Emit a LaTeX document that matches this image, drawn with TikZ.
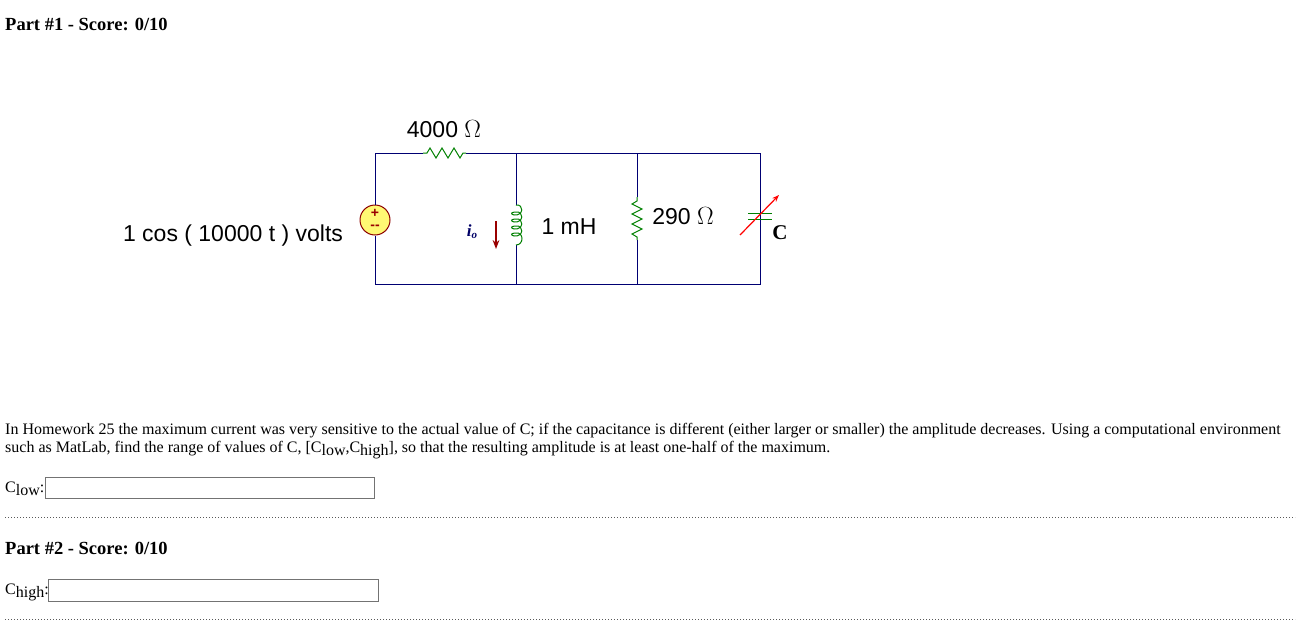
\documentclass[tikz,border=0pt]{standalone}
\usepackage{fontspec}
\setmainfont{Liberation Serif}
\newfontfamily\lsans{Liberation Sans}
\usetikzlibrary{arrows.meta}
\begin{document}
\begin{tikzpicture}[x=1pt,y=-1pt,
  wire/.style={draw=blue!45!black,line width=1pt},
  comp/.style={draw=green!50!black,line width=1pt},
  txt/.style={anchor=base west,inner sep=0pt,font=\fontsize{16}{18}\selectfont},
  lbl/.style={inner sep=0pt,font=\lsans\fontsize{23}{26}\selectfont},
  box/.style={draw=gray!90!black,line width=1pt,fill=white},
  dots/.style={draw=gray!70!black,dotted,line width=1pt}]
\useasboundingbox (0,0) rectangle (1301,624);
\node[txt,font=\bfseries\fontsize{18.5}{20}\selectfont] (p1) at (5,30) {Part \#1 - Score: 0/10};
\coordinate (tl) at (375,153); \coordinate (bl) at (375,284);
\coordinate (r1a) at (423,153); \coordinate (r1b) at (466,153);
\coordinate (tm) at (516,153); \coordinate (bm) at (516,284);
\coordinate (tr) at (637,153); \coordinate (br) at (637,284);
\coordinate (tx) at (760,153); \coordinate (bx) at (760,284);
\node[circle,draw=red!55!black,fill=yellow!55,line width=1pt,minimum size=30pt,inner sep=0pt] (src) at (375,220) {};
\node[inner sep=0pt,font=\lsans\bfseries\fontsize{14}{14}\selectfont,text=red!60!black] at (375,213) {+};
\node[inner sep=0pt,font=\lsans\bfseries\fontsize{14}{14}\selectfont,text=red!60!black] at (375,227) {--};
\draw[wire] (src.north) -- (tl) -- (r1a);
\draw[wire] (r1b) -- (tx) -- (bx) -- (bl) -- (src.south);
\draw[wire] (tm) -- (516,205); \draw[wire] (516,245) -- (bm);
\draw[wire] (tr) -- (637,197); \draw[wire] (637,240) -- (br);
\draw[wire] (760,153) -- (760,213); \draw[wire] (760,219) -- (760,284);
\draw[comp] (r1a) -- (427,153) -- (430,148) -- (436,158) -- (442,148) -- (448,158) -- (454,148) -- (460,158) -- (463,153) -- (r1b);
\node[lbl] (l1) at (444,129) {4000 \(\Omega\)};
\draw[comp] (516,205)
  .. controls (524,204) and (524,216) .. (514,215) .. controls (510,214) and (511,212) .. (516,212)
  .. controls (524,211) and (524,223) .. (514,222) .. controls (510,221) and (511,219) .. (516,219)
  .. controls (524,218) and (524,230) .. (514,229) .. controls (510,228) and (511,226) .. (516,226)
  .. controls (524,225) and (524,237) .. (514,236) .. controls (510,235) and (511,233) .. (516,233)
  .. controls (524,232) and (524,245) .. (516,245);
\node[lbl] (l2) at (569,227) {1 mH};
\draw[comp] (637,197) -- (637,201) -- (632,204) -- (642,209) -- (632,214) -- (642,219) -- (632,224) -- (642,229) -- (632,234) -- (637,237) -- (637,240);
\node[lbl] (l3) at (683,216) {290 \(\Omega\)};
\draw[comp] (748,213) -- (772,213); \draw[comp] (748,219) -- (772,219);
\draw[red,line width=1.2pt,-{Stealth[length=7pt]}] (740,235) -- (779,195);
\node[inner sep=0pt,font=\bfseries\fontsize{21}{22}\selectfont] (cl) at (780,233) {C};
\node[inner sep=0pt,font=\bfseries\itshape\fontsize{17}{17}\selectfont,text=blue!40!black] (io) at (472,232) {i\raisebox{-2pt}{\fontsize{11}{11}\selectfont o}};
\draw[red!60!black,line width=1.3pt,-{Stealth[length=9pt]}] (496,221) -- (496,249);
\node[lbl] (l4) at (233,236) {1 cos ( 10000 t ) volts};
\node[txt] (t1) at (5,434) {In Homework 25 the maximum current was very sensitive to the actual value of C; if the capacitance is different (either larger or smaller) the amplitude decreases. Using a computational environment};
\node[txt] (t2) at (5,452) {such as MatLab, find the range of values of C, [C\raisebox{-3pt}{low},C\raisebox{-3pt}{high}], so that the resulting amplitude is at least one-half of the maximum.};
\node[txt] (c1) at (5,492) {C\raisebox{-3pt}{low}:};
\draw[box] (45,477) rectangle (374,498);
\draw[dots] (5,517) -- (1295,517);
\node[txt,font=\bfseries\fontsize{18.5}{20}\selectfont] (p2) at (5,554) {Part \#2 - Score: 0/10};
\node[txt] (c2) at (5,594) {C\raisebox{-3pt}{high}:};
\draw[box] (48,579) rectangle (378,601);
\draw[dots] (5,619) -- (1295,619);
\end{tikzpicture}
\end{document}
